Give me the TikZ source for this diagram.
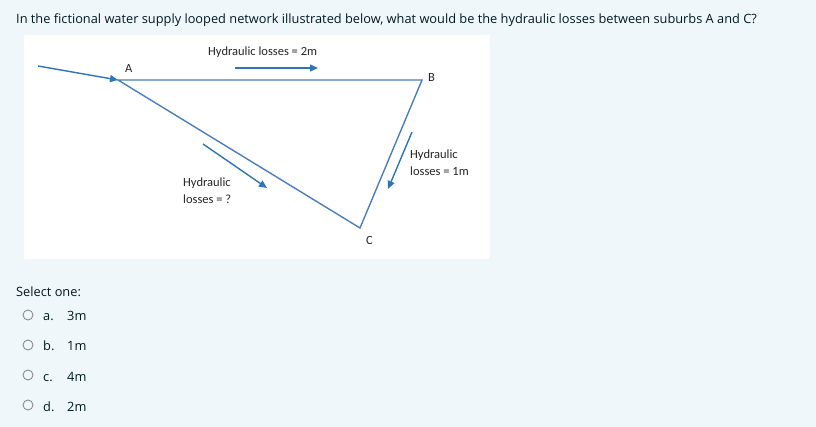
\documentclass[tikz,border=0pt]{standalone}
\usepackage{fontspec}
\setmainfont{Open Sans}
\newfontfamily\calibri{Carlito}
\usetikzlibrary{arrows.meta, positioning}

\definecolor{pagebg}{RGB}{239,247,251}
\definecolor{pipeblue}{RGB}{74,126,187}
\definecolor{flowblue}{RGB}{46,117,182}
\definecolor{qtext}{RGB}{0,26,30}

\tikzset{
	pipe/.style={pipeblue, line width=1.4pt},
	flow/.style={flowblue, line width=1.4pt, -{Triangle[length=8pt,width=7pt]}},
	lbl/.style={inner sep=0pt, anchor=base west, font=\calibri\fontsize{12.5}{17}\selectfont, text=black!85},
	qlbl/.style={inner sep=0pt, anchor=base west, font=\fontsize{12.8}{15}\selectfont, text=qtext},
	radio/.style={circle, draw=black!45, line width=0.9pt, minimum size=10pt, inner sep=0pt}
}

\begin{document}
\begin{tikzpicture}[x=1pt, y=-1pt]
	\useasboundingbox (0,0) rectangle (816,427);
	\fill[pagebg] (0,0) rectangle (816,427);
	\fill[white] (24,35) rectangle (490,259);

	\node[qlbl] (question) at (16,24) {In the fictional water supply looped network illustrated below, what would be the hydraulic losses between suburbs A and C?};

	% junctions of the loop
	\coordinate (in) at (38,66);
	\coordinate (A) at (118,80);
	\coordinate (B) at (422,80);
	\coordinate (C) at (360,228);
	\draw[flow] (in) -- (A);
	\draw[pipe] (A) -- (B) -- (C) -- cycle;
	\node[lbl] (labA) at (125,73) {A};
	\node[lbl] (labB) at (428,82) {B};
	\node[lbl] (labC) at (366,245) {C};

	% losses along each pipe
	\coordinate (ab1) at (235,68);
	\coordinate (ab2) at (318,68);
	\coordinate (ac1) at (203,144);
	\coordinate (ac2) at (267,188);
	\coordinate (bc1) at (412,132);
	\coordinate (bc2) at (388,189);
	\draw[flow] (ab1) -- (ab2);
	\draw[flow] (ac1) -- (ac2);
	\draw[flow] (bc1) -- (bc2);
	\node[lbl] (lossAB) at (208,56) {Hydraulic losses = 2m};
	\node[lbl, align=left, anchor=north west] (lossAC) at (183,178) {Hydraulic\\losses = ?};
	\node[lbl, align=left, anchor=north west] (lossBC) at (410,150) {Hydraulic\\losses = 1m};

	\node[qlbl] (select) at (16,297) {Select one:};
	\foreach \y/\k/\v in {315/a/3m, 345/b/1m, 375/c/4m, 405/d/2m} {
		\node[radio] (r\k) at (28,\y) {};
		\node[qlbl] (k\k) at (43,\y+6) {\k.};
		\node[qlbl] (v\k) at (67,\y+6) {\v};
	}
\end{tikzpicture}
\end{document}
